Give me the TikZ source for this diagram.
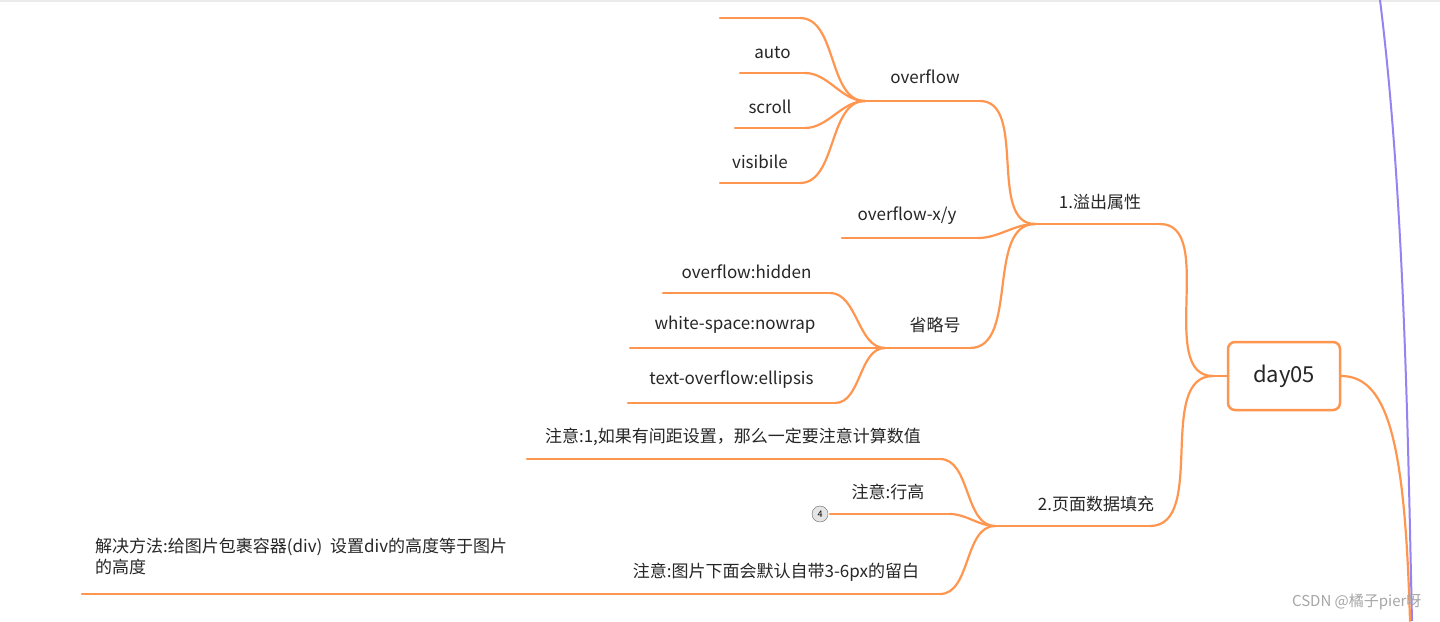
\documentclass[tikz,border=0pt]{standalone}
\usepackage{fontspec}
\setmainfont{Noto Sans CJK SC}
\usetikzlibrary{calc}
\definecolor{branchorange}{RGB}{255,150,80}
\definecolor{sidepurple}{RGB}{150,130,240}
\tikzset{
    branch/.style={
        draw=branchorange,
        line width=2.2pt,
        line cap=round
    },
    label/.style={
        font=\fontsize{17}{21}\selectfont,
        text=black!85,
        inner sep=0pt
    }
}
% underline of a topic from (#1) to (#2)
\newcommand{\topicline}[2]{
    \draw [branch] (#1) -- (#2);
}
% curved joint from (#1) to (#2)
\newcommand{\joint}[2]{
    \draw [branch] (#1) to [out=0, in=180, looseness=0.9] (#2);
}

\begin{document}
\begin{tikzpicture}[x=1pt, y=-1pt]
    \useasboundingbox [fill=white] (0,0) rectangle (1440,621);
    \draw [black!8, line width=1.5pt] (0,1) -- (1440,1);

    % side lines
    \draw [sidepurple, line width=2pt] (1380,0) .. controls (1405,200) and (1408,450) .. (1412,621);
    \node [draw=branchorange, line width=2.5pt, rounded corners=7pt,
           minimum width=112pt, minimum height=68pt,
           font=\fontsize{22}{26}\selectfont, text=black!85]
        (root) at (1284,376) {day05};
    \draw [branch] (root.east) .. controls (1390,376) and (1405,450) .. (1410,621);
    \coordinate (rootin) at (1213,376);
    \draw [branch] (rootin) -- (root.west);

    % 1.溢出属性
    \coordinate (onel) at (1035,224);
    \coordinate (oner) at (1160,224);
    \topicline{onel}{oner}
    \node [label] (one) at (1100,202) {1.溢出属性};
    \joint{oner}{rootin}

    % overflow
    \coordinate (ovl) at (865,101);
    \coordinate (ovr) at (980,101);
    \topicline{ovl}{ovr}
    \node [label] (ov) at (925,77) {overflow};
    \joint{ovr}{onel}
    \foreach \name/\xl/\xr/\y/\txt in {
        empty/720/800/18/{},
        auto/740/805/73/auto,
        scroll/735/805/128/scroll,
        vis/720/800/183/visibile} {
        \coordinate (\name l) at (\xl,\y);
        \coordinate (\name r) at (\xr,\y);
        \topicline{\name l}{\name r}
        \node [label, anchor=south] (\name) at ({(\xl+\xr)/2},\y-14) {\txt};
        \joint{\name r}{ovl}
    }

    % overflow-x/y
    \coordinate (oxyl) at (842,238);
    \coordinate (oxyr) at (978,238);
    \topicline{oxyl}{oxyr}
    \node [label] (oxy) at (907,216) {overflow-x/y};
    \joint{oxyr}{onel}

    % 省略号
    \coordinate (elll) at (885,348);
    \coordinate (ellr) at (970,348);
    \topicline{elll}{ellr}
    \node [label] (ell) at (935,325) {省略号};
    \joint{ellr}{onel}
    \foreach \name/\xl/\xr/\y/\txt in {
        hid/663/830/293/overflow:hidden,
        nowrap/630/840/348/white-space:nowrap,
        tov/628/835/403/text-overflow:ellipsis} {
        \coordinate (\name l) at (\xl,\y);
        \coordinate (\name r) at (\xr,\y);
        \topicline{\name l}{\name r}
        \node [label, anchor=south] (\name) at ({(\xl+\xr)/2},\y-14) {\txt};
        \joint{\name r}{elll}
    }

    % 2.页面数据填充
    \coordinate (twol) at (995,526);
    \coordinate (twor) at (1150,526);
    \topicline{twol}{twor}
    \node [label] (two) at (1096,504) {2.页面数据填充};
    \joint{twor}{rootin}

    \coordinate (n1l) at (527,459);
    \coordinate (n1r) at (940,459);
    \topicline{n1l}{n1r}
    \node [label] (n1) at (733,437) {注意:1,如果有间距设置，那么一定要注意计算数值};
    \joint{n1r}{twol}

    \coordinate (n2l) at (830,514);
    \coordinate (n2r) at (950,514);
    \topicline{n2l}{n2r}
    \node [label] (n2) at (888,492) {注意:行高};
    \node [circle, draw=black!60, fill=black!10, minimum size=16pt, inner sep=0pt,
           font=\fontsize{9}{10}\selectfont] (badge) at (820,514) {4};
    \joint{n2r}{twol}

    \coordinate (n3l) at (82,594);
    \coordinate (n3r) at (940,594);
    \topicline{n3l}{n3r}
    \node [label] (n3) at (776,572) {注意:图片下面会默认自带3-6px的留白};
    \node [label, anchor=north west, align=left] (sol) at (95,538)
        {解决方法:给图片包裹容器(div)\ \ 设置div的高度等于图片\\的高度};
    \joint{n3r}{twol}

    \node [font=\fontsize{15}{18}\selectfont, text=black!35, anchor=east] (mark) at (1425,602) {CSDN @橘子pier呀};
\end{tikzpicture}
\end{document}
